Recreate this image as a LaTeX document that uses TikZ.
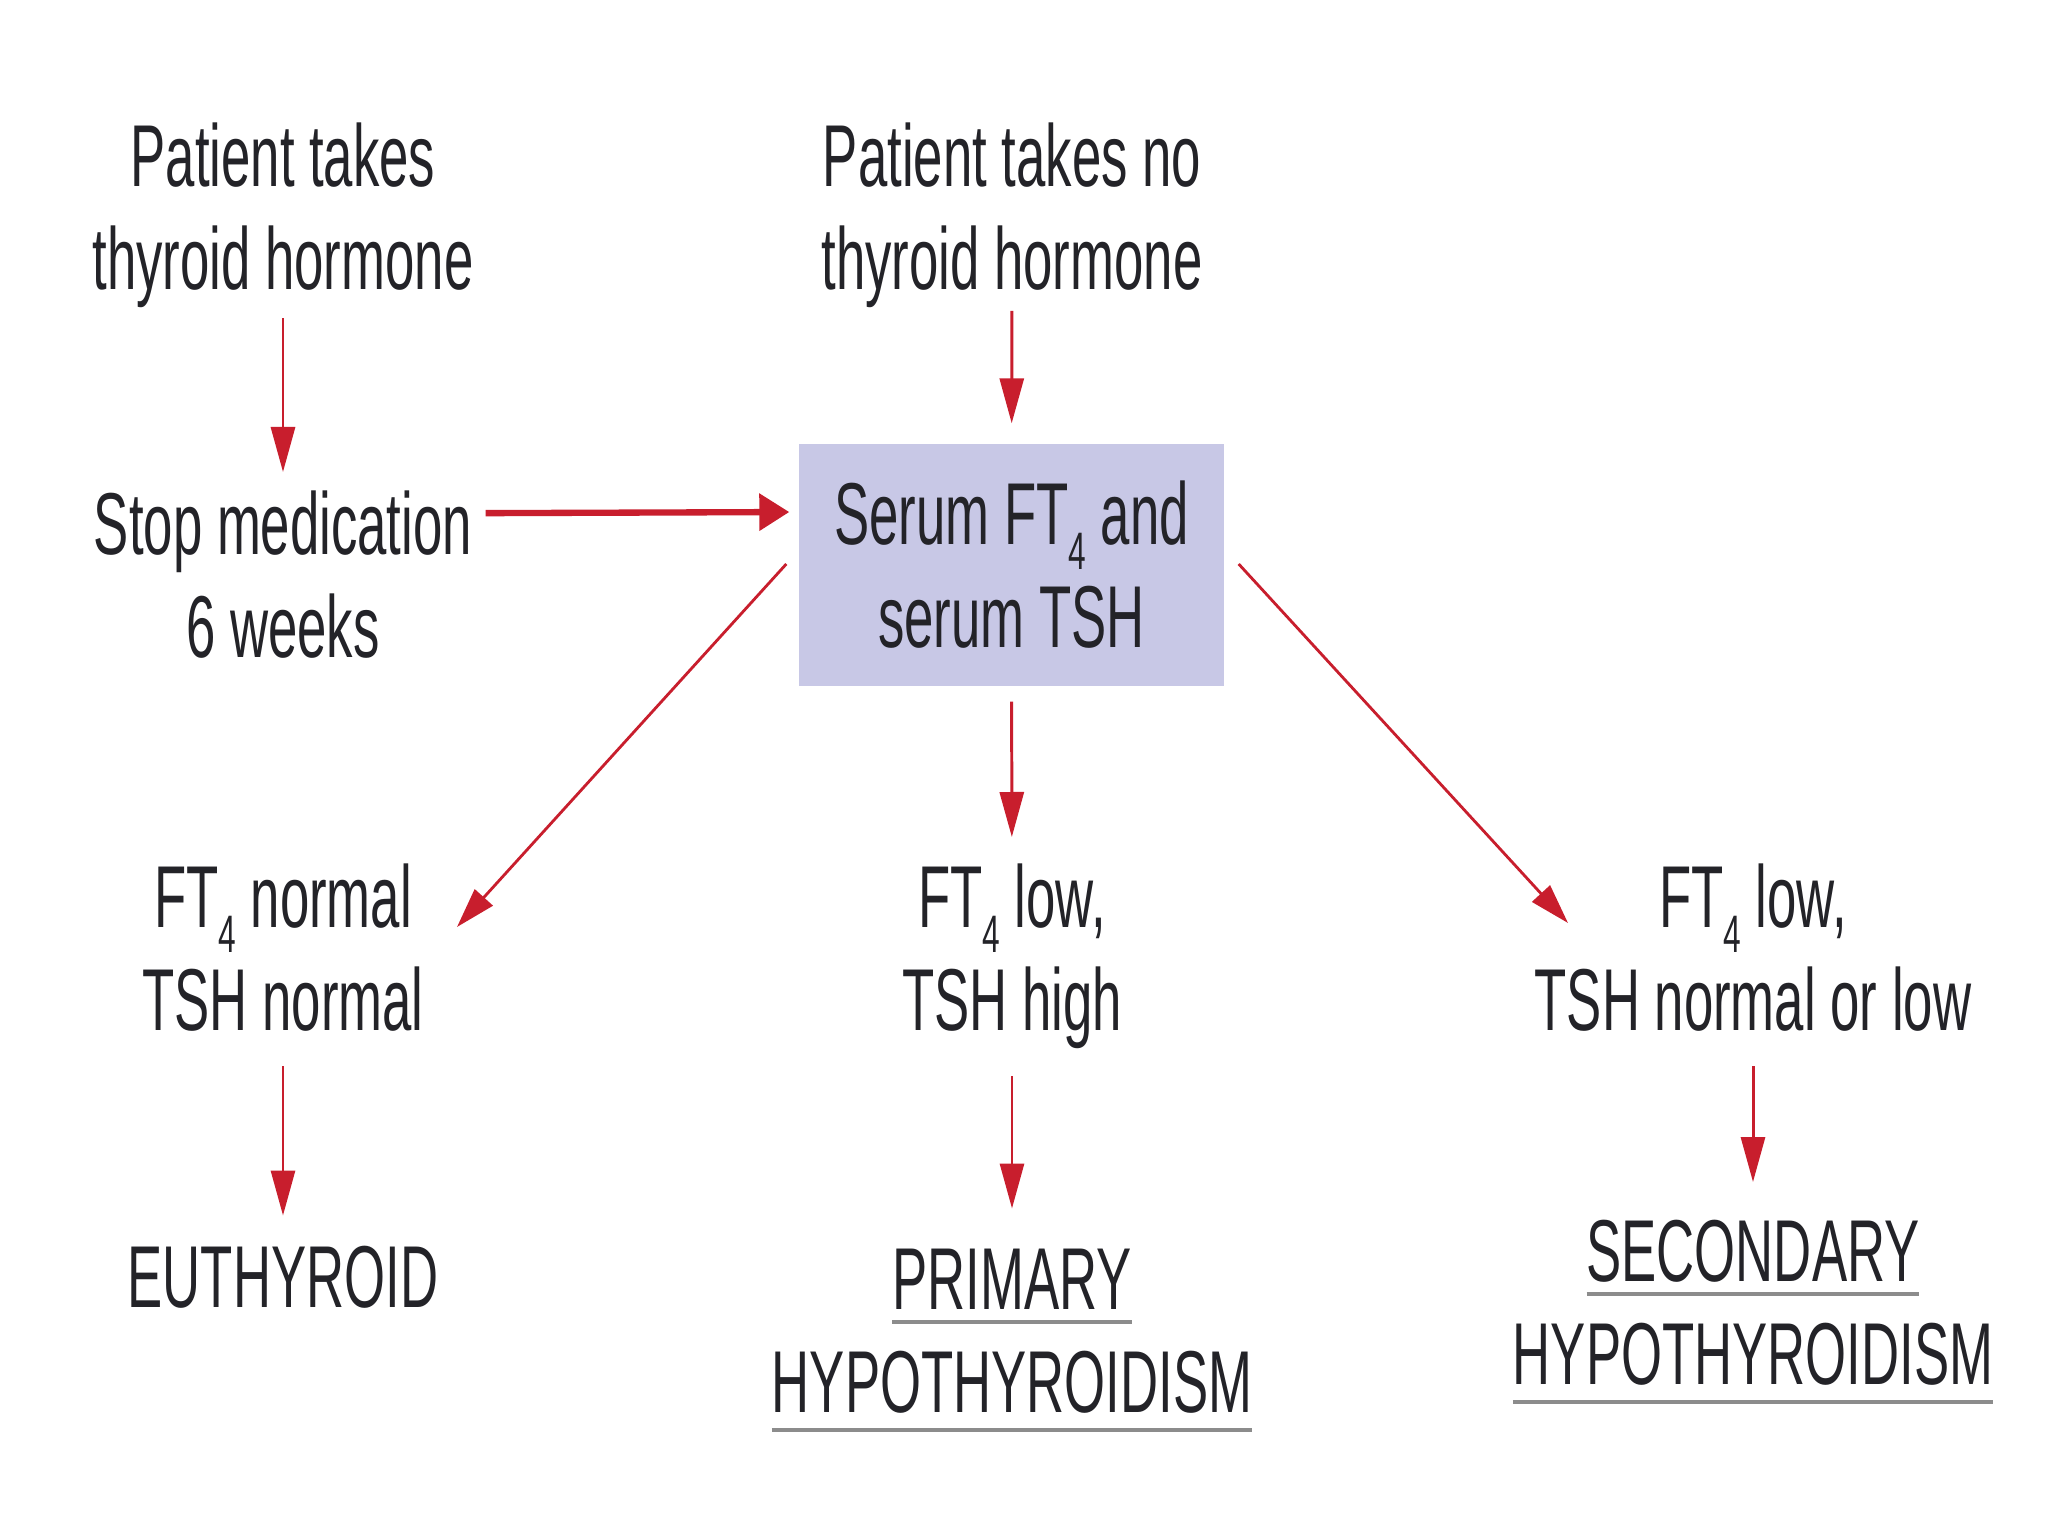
\documentclass[tikz,border=0pt]{standalone}
\usepackage{fontspec}
\setmainfont[FakeStretch=0.6]{Liberation Sans}
\usetikzlibrary{arrows.meta}
\definecolor{arrc}{RGB}{200,30,45}
\definecolor{boxc}{RGB}{200,200,230}
\definecolor{txtc}{RGB}{35,35,40}
\definecolor{ulc}{RGB}{140,140,140}
\newcommand\fs{\fontsize{25}{29.3}\selectfont}
\newcommand\mysub[1]{\raisebox{-0.28em}{\fontsize{15}{15}\selectfont #1}}
\newcommand\myul[2]{\setbox0\hbox{#2}\rlap{\color{ulc}\rule[#1]{\wd0}{1.1pt}}\box0}
\tikzset{
  txt/.style={align=center, inner sep=0pt, font=\fs, text=txtc, anchor=north},
  arr/.style={draw=arrc, line width=0.85pt, -{Triangle[length=0.45cm,width=0.24cm]}},
  thickarr/.style={draw=arrc, line width=1.8pt, -{Triangle[length=0.3cm,width=0.36cm]}},
  diagarr/.style={draw=arrc, line width=0.8pt, -{Triangle[length=0.4cm,width=0.24cm]}},
}
\begin{document}
\begin{tikzpicture}
\useasboundingbox[fill=white] (0,0) rectangle (20.48,-15.36);

\node[txt] (p1) at (2.83,-1.225) {Patient takes\\thyroid hormone};
\node[txt] (p2) at (10.12,-1.225) {Patient takes no\\thyroid hormone};
\node[txt] (stop) at (2.83,-4.905) {Stop medication\\6 weeks};
\node[fill=boxc, minimum width=4.25cm, minimum height=2.42cm, inner sep=0pt,
      align=center, font=\fs, text=txtc] (box) at (10.115,-5.65) {Serum FT\mysub{4} and\\serum TSH};
\node[txt] (ft1) at (2.83,-8.635) {FT\mysub{4} normal\\TSH normal};
\node[txt] (ft2) at (10.12,-8.635) {FT\mysub{4} low,\\TSH high};
\node[txt] (ft3) at (17.53,-8.635) {FT\mysub{4} low,\\TSH normal or low};
\node[txt] (eu) at (2.83,-12.455) {EUTHYROID};
\node[txt] (prim) at (10.12,-12.485) {\myul{-4pt}{PRIMARY}\\\myul{-5.5pt}{HYPOTHYROIDISM}};
\node[txt] (sec) at (17.53,-12.195) {\myul{-4pt}{SECONDARY}\\\myul{-5.5pt}{HYPOTHYROIDISM}};

\coordinate (t1) at (4.57,-9.27);
\coordinate (t2) at (15.68,-9.23);

\draw[arr, shorten <=0.095cm, shorten >=0.185cm] (p1) -- (stop);
\draw[arr, shorten <=0.02cm, shorten >=0.2cm] (p2) -- (box);
\draw[arr, shorten <=0.15cm, shorten >=0.265cm] (box) -- (ft2);
\draw[arr, shorten <=0.34cm, shorten >=0.3cm] (ft1) -- (eu);
\draw[arr, shorten <=0.265cm, shorten >=0.4cm] (ft2) -- (prim);
\draw[arr, shorten <=0.34cm, shorten >=0.375cm] (ft3) -- (sec);
\draw[thickarr, shorten <=0.13cm, shorten >=0.09cm] ([yshift=0.6175cm]stop.east) -- ([yshift=0.53cm]box.west);
\draw[diagarr] ([xshift=-0.12cm,yshift=0.01cm]box.west) -- (t1);
\draw[diagarr] ([xshift=0.14cm,yshift=0.01cm]box.east) -- (t2);
\end{tikzpicture}
\end{document}
